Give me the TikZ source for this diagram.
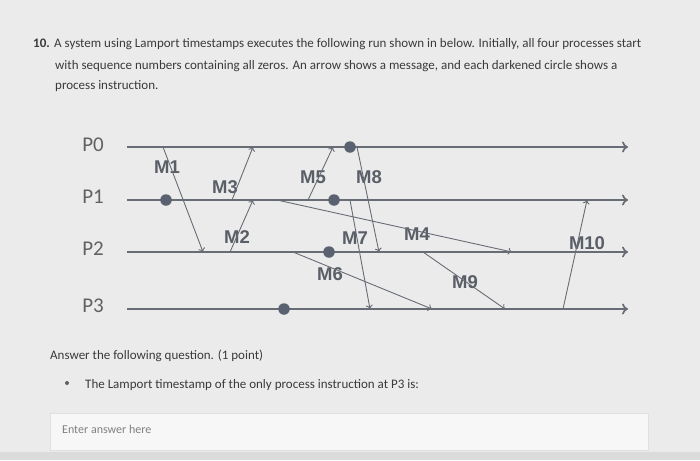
\documentclass[tikz,border=0pt]{standalone}
\usepackage{fontspec}
\setmainfont{Carlito}
\setsansfont{Liberation Sans}
\usetikzlibrary{arrows.meta,positioning}
\definecolor{paper}{HTML}{EBEBEB}
\definecolor{ink}{HTML}{3A3A3A}
\definecolor{wire}{HTML}{686C75}
\definecolor{dotc}{HTML}{5A6272}
\definecolor{lbl}{HTML}{5A5E67}

\begin{document}
\begin{tikzpicture}[x=1pt,y=-1pt,
  proc/.style={draw=wire,line width=1.7pt,-{To[length=6pt,width=11pt]}},
  msg/.style={draw=wire,line width=0.9pt,-{To[length=4pt,width=7pt]}},
  ev/.style={circle,fill=dotc,inner sep=0pt,minimum size=11.5pt},
  pname/.style={font=\fontsize{21}{21}\selectfont,text=ink!80},
  mname/.style={font=\sffamily\bfseries\fontsize{18.5}{18.5}\selectfont,text=lbl},
  txt/.style={font=\fontsize{13}{15}\selectfont,text=ink,anchor=base west,inner sep=0pt}]
\useasboundingbox (0,0) rectangle (700,460);
\fill[paper] (0,0) rectangle (700,460);
\fill[paper!93!black] (0,452) rectangle (700,460);

% question text
\node[txt] (qnum) at (33,48) {\textbf{10.}};
\node[txt] (q1) at (54,48) {A system using Lamport timestamps executes the following run shown in below. Initially, all four processes start};
\node[txt] (q2) at (55,69) {with sequence numbers containing all zeros. An arrow shows a message, and each darkened circle shows a};
\node[txt] (q3) at (55,89) {process instruction.};

% processes
\node[pname] (P0) at (93,145) {P0};
\node[pname] (P1) at (93,197) {P1};
\node[pname] (P2) at (93,249) {P2};
\node[pname] (P3) at (93,306) {P3};
\foreach \p/\y in {0/147,1/200,2/252,3/309} {
  \coordinate (s\p) at (127,\y);
  \coordinate (e\p) at (628,\y);
  \draw[proc] (s\p) -- (e\p);
}

% process instructions
\node[ev] (d1) at (166,200) {};
\node[ev] (d3) at (284,309) {};
\node[ev] (d2) at (329,252) {};
\node[ev] (d1b) at (334,200) {};
\node[ev] (d0) at (350,147) {};

% message ends
\coordinate (m1a) at (163,147);  \coordinate (m1b) at (203,252);
\coordinate (m2a) at (230,252);  \coordinate (m2b) at (253,200);
\coordinate (m3a) at (232,200);  \coordinate (m3b) at (253,147);
\coordinate (m4a) at (277,200);  \coordinate (m4b) at (512,252);
\coordinate (m5a) at (308,200);  \coordinate (m5b) at (333,147);
\coordinate (m6a) at (293,252);  \coordinate (m6b) at (432,309);
\coordinate (m7a) at (350,200);  \coordinate (m7b) at (370,309);
\coordinate (m8a) at (357,147);  \coordinate (m8b) at (379,252);
\coordinate (m9a) at (423,252);  \coordinate (m9b) at (505,309);
\coordinate (m10a) at (563,309); \coordinate (m10b) at (587,200);

% message names
\node[mname] (M1) at (167,167) {M1};
\node[mname] (M2) at (237,237) {M2};
\node[mname] (M3) at (225,187) {M3};
\node[mname] (M4) at (417,234) {M4};
\node[mname] (M5) at (313,177) {M5};
\node[mname] (M6) at (330,274) {M6};
\node[mname] (M7) at (355,238) {M7};
\node[mname] (M8) at (369,177) {M8};
\node[mname] (M9) at (465,282) {M9};
\node[mname] (M10) at (587,243) {M10};

\foreach \m in {1,...,10}
  \draw[msg] (m\m a) -- (m\m b);

% answer part
\node[txt] (ask) at (50,359) {Answer the following question. (1 point)};
\fill[ink!80] (67,383) circle (2pt);
\node[txt] (item) at (85,388) {The Lamport timestamp of the only process instruction at P3 is:};
\node[draw=black!12,fill=paper!40!white,minimum width=598pt,minimum height=37pt,anchor=north west] (box) at (50,413) {};
\node[txt,text=black!50,font=\fontsize{12}{14}\selectfont] (hint) at (62,433) {Enter answer here};
\end{tikzpicture}
\end{document}
